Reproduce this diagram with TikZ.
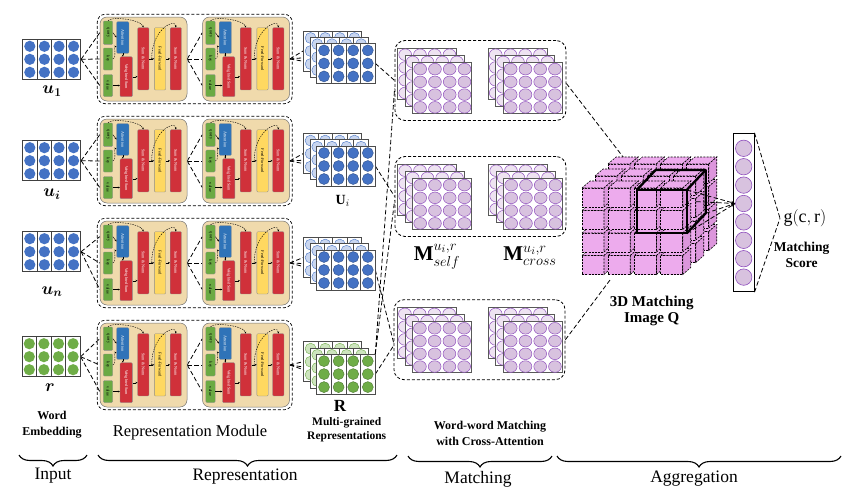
\documentclass[tikz,border=0pt]{standalone}
\usepackage{fontspec}
\setmainfont{Liberation Serif}
\usepackage{amsmath,bm}
\usetikzlibrary{decorations.pathreplacing,arrows.meta,calc,fit}
\definecolor{blueC}{HTML}{4472C4}
\definecolor{blueL}{HTML}{C9D6EF}
\definecolor{greenC}{HTML}{6FAD47}
\definecolor{greenL}{HTML}{CDE4BE}
\definecolor{purF}{HTML}{D8C2DF}
\definecolor{purL}{HTML}{EEE3F1}
\definecolor{purS}{HTML}{9050BE}
\definecolor{tanC}{HTML}{F0DAAC}
\definecolor{gboxC}{HTML}{6BAA43}
\definecolor{attnC}{HTML}{2F73B8}
\definecolor{redC}{HTML}{D0313A}
\definecolor{yelC}{HTML}{FFD860}
\definecolor{pinkC}{HTML}{EDABED}
\definecolor{pinkD}{HTML}{DC96DC}
\pgfdeclarelayer{bg}
\pgfsetlayers{bg,main}
\tikzset{
 blk/.style={inner sep=0pt, minimum width=58.4pt, minimum height=40pt},
 vcol/.style={draw=black!75, line width=1pt, fill=white, minimum width=14.6pt, minimum height=40pt, inner sep=0pt},
 tanbox/.style={fill=tanC, draw=black!55, line width=0.5pt, rounded corners=7pt, minimum width=87pt, minimum height=84pt, inner sep=0pt},
 mblk/.style={rotate=-90, draw=black!45, line width=0.3pt, inner sep=0pt, rounded corners=1pt, font=\fontsize{4.2}{5}\selectfont},
 ia/.style={-{Stealth[length=2pt,width=1.8pt]}, line width=0.4pt},
 ra/.style={-{Stealth[length=2pt,width=1.8pt]}, line width=0.4pt, dash pattern=on 1.5pt off 1pt},
 obox/.style={draw, dash pattern=on 3pt off 2pt, rounded corners=8pt, line width=0.7pt, inner sep=2.5pt},
 mbox/.style={draw, dash pattern=on 3pt off 2pt, rounded corners=10pt, line width=0.8pt, minimum width=171pt, minimum height=80pt, inner sep=0pt},
 conn/.style={dash pattern=on 4.5pt off 2.5pt, line width=0.8pt},
 cubeS/.style={draw=black, line width=0.6pt, dash pattern=on 2pt off 1.2pt},
 lab/.style={font=\fontsize{17.5}{20}\selectfont},
 blab/.style={font=\bfseries\fontsize{12}{16}\selectfont, align=center},
 brc/.style={decorate, decoration={brace, mirror, amplitude=11pt}, line width=1.1pt},
 vcirc/.style={circle, fill=purF, draw=purS, line width=0.6pt, minimum size=16.4pt, inner sep=0pt},
}
\newcommand\wvec[4]{%
 \node[blk] (#1) at ({#2+29.2},{#3+20}) {};
 \foreach \i in {0,...,3}{
  \node[vcol] (#1c\i) at ({#2+7.3+14.6*\i},{#3+20}) {};
  \foreach \j in {0,1,2} \fill[#4] ({#2+7.3+14.6*\i},{#3+7+13*\j}) circle (5.6);
 }}
\newcommand\slayer[5]{%
 \node[blk] (#1) at ({#2+29.2},{#3+20}) {};
 \foreach \i in {0,...,3}{
  \draw[draw=black!70,line width=0.8pt,fill=white] ({#2+14.6*\i},{#3}) rectangle ++(14.6,40);
  \foreach \j in {0,1,2} \filldraw[fill=#4,draw=#5,line width=0.4pt] ({#2+7.3+14.6*\i},{#3+7+13*\j}) circle (5.5);
 }}
\newcommand\rstack[5]{%
 \slayer{#1b}{#2}{#3}{#5}{#4}%
 \slayer{#1m}{#2+6.7}{#3+6.2}{#5}{#4}%
 \slayer{#1}{#2+13.4}{#3+12.4}{#4}{#4!70!black}}
\newcommand\mlayer[4]{%
 \node[draw=black!65,line width=0.9pt,fill=white,minimum width=59pt,minimum height=51pt,inner sep=0pt] (#1) at ({#2+29.5},{#3+25.5}) {};
 \foreach \i in {0,...,3}{\foreach \j in {0,...,3}{
  \filldraw[fill=#4,draw=purS,line width=0.5pt] ({#2+7.4+14.75*\i},{#3+6.4+12.75*\j}) ellipse (6.4 and 5.8);}}}
\newcommand\mstack[3]{%
 \mlayer{#1b}{#2}{#3}{purL}%
 \mlayer{#1m}{#2+7.5}{#3+7.2}{purL}%
 \mlayer{#1}{#2+15}{#3+14.4}{purF}}
\newcommand\rmod[3]{%
\begin{scope}[shift={(#2,#3)}]
\node[tanbox] (#1) at (43.5,42) {};
\node[mblk,fill=gboxC,minimum width=23.3pt,minimum height=9.4pt] (#1q) at (8,15.7) {query};
\node[mblk,fill=gboxC,minimum width=22pt,minimum height=9.4pt] (#1k) at (8,42) {key};
\node[mblk,fill=gboxC,minimum width=22pt,minimum height=9.4pt] (#1v) at (8,68.5) {value};
\node[mblk,fill=attnC,text=white,minimum width=31.6pt,minimum height=12.3pt] (#1a) at (22.8,20.5) {Attention};
\node[mblk,fill=redC,text=white,minimum width=40pt,minimum height=12.3pt] (#1w) at (26.2,59.7) {Weighted Sum};
\node[mblk,fill=redC,text=white,minimum width=62.3pt,minimum height=11.3pt] (#1s) at (43.3,41.8) {Sum \& Norm};
\node[mblk,fill=yelC,minimum width=62.3pt,minimum height=11.3pt] (#1f) at (60,41.8) {Feed-Forward};
\node[mblk,fill=redC,text=white,minimum width=62.3pt,minimum height=11.3pt] (#1n) at (75.8,41.8) {Sum \& Norm};
\draw[ia] (#1q.north) -- (#1a.south);
\draw[ra] (#1k.north) .. controls +(4,0) and +(-3,0) .. ($(#1a.south)+(0,9)$);
\draw[ia] (#1v.north) -- (#1v.north -| #1w.south);
\draw[ia] (#1a.east) -- (#1a.east |- #1w.west);
\draw[ia] (#1w.north) -- (#1w.north -| #1s.south);
\draw[ia] (#1s.north) -- (#1f.south);
\draw[ia] (#1f.north) -- (#1n.south);
\draw[ra] (#1q.west) .. controls +(2,-5) and +(-2,-8) .. (#1s.west);
\draw[ra] ($(#1s.north)!0.5!(#1f.south)$) .. controls +(0,-30) and +(0,-10) .. (#1n.west);
\end{scope}}
\begin{document}
\begin{tikzpicture}[x=1pt,y=-1pt]
\useasboundingbox (0,0) rectangle (856,493);
% ---------- input ----------
\wvec{u1}{22.5}{39.3}{blueC}
\wvec{ui}{22.5}{140.7}{blueC}
\wvec{un}{22.5}{231.7}{blueC}
\wvec{r}{22}{336.7}{greenC}
\node[font=\fontsize{17}{19}\selectfont] (lu1) at (52,91) {$\bm{u_1}$};
\node[font=\fontsize{17}{19}\selectfont] (lui) at (52,194) {$\bm{u_i}$};
\node[font=\fontsize{17}{19}\selectfont] (lun) at (52,291.7) {$\bm{u_n}$};
\node[font=\fontsize{17}{19}\selectfont] (lr) at (50,388) {$\bm{r}$};
% ---------- representation modules ----------
\rmod{ma1}{100}{17}  \rmod{mb1}{202.5}{17}
\rmod{ma2}{100}{119} \rmod{mb2}{202.5}{119}
\rmod{ma3}{100}{221} \rmod{mb3}{202.5}{221}
\rmod{ma4}{100}{323} \rmod{mb4}{202.5}{323}
\node[obox, fit=(ma1)(mb1)] (o1) {};
\node[obox, fit=(ma2)(mb2)] (o2) {};
\node[obox, fit=(ma3)(mb3)] (o3) {};
\node[obox, fit=(ma4)(mb4)] (o4) {};
% ---------- stacks ----------
\rstack{U1}{303.3}{31}{blueC}{blueL}
\rstack{Ui}{303.3}{133.6}{blueC}{blueL}
\rstack{Un}{303.3}{237.6}{blueC}{blueL}
\rstack{R}{303.3}{341.7}{greenC}{greenL}
\node[font=\fontsize{14}{16}\selectfont] (lUi) at (342.7,201) {$\mathbf{U}_i$};
\node[font=\fontsize{17}{19}\selectfont] (lR) at (340,406) {$\mathbf{R}$};
\node[font=\bfseries\fontsize{11.5}{14}\selectfont, align=center] (lmg) at (346.7,430) {Multi-grained\\Representations};
% ---------- matching ----------
\node[mbox] (MB1) at (480.5,80.5) {};
\node[mbox] (MB2) at (480.5,196.5) {};
\node[mbox] (MB3) at (479.5,339.7) {};
\mstack{S1}{397.8}{48.3} \mstack{C1}{488.3}{48.3}
\mstack{S2}{397.8}{164.3} \mstack{C2}{488.8}{164.3}
\mstack{S3}{397.5}{307.5} \mstack{C3}{488.3}{307.5}
\node[font=\fontsize{21}{23}\selectfont, anchor=base] (lMs) at (437,260) {$\mathbf{M}^{u_i,r}_{self}$};
\node[font=\fontsize{21}{23}\selectfont, anchor=base] (lMc) at (530,260) {$\mathbf{M}^{u_i,r}_{cross}$};
% ---------- 3D cube ----------
\foreach \k in {2,1,0}{
 \foreach \j in {3,2,1,0}{
  \foreach \i in {0,1,2,3}{
   \pgfmathsetmacro\X{582+26.25*\i+13*\k}
   \pgfmathsetmacro\Y{188+22.5*\j-12*\k}
   \filldraw[cubeS,fill=pinkC] (\X,\Y) rectangle ++(22,19);
   \filldraw[cubeS,fill=pinkC] (\X,\Y) -- ++(8,-7) -- ++(22,0) -- ++(-8,7) -- cycle;
   \filldraw[cubeS,fill=pinkD] (\X+22,\Y) -- ++(8,-7) -- ++(0,19) -- ++(-8,7) -- cycle;
 }}}
\coordinate (BFtl) at (636.7,190);
\coordinate (BFtr) at (686.7,190);
\coordinate (BFbr) at (686.7,233.3);
\coordinate (BBtl) at (655.7,170);
\coordinate (BBtr) at (705.7,170);
\coordinate (BBbr) at (705.7,213.3);
\draw[line width=2.3pt, line join=round] (BFtl) rectangle (BFbr);
\draw[line width=2.3pt, line join=round] (BFtl) -- (BBtl) -- (BBtr) -- (BBbr) -- (BFbr);
\draw[line width=2.3pt, line join=round] (BFtr) -- (BBtr);
\coordinate (Qt) at (627,162);
\coordinate (Qb) at (610,280);
\node[font=\bfseries\fontsize{15}{16}\selectfont, align=center] (lQ) at (651.7,311) {3D Matching\\Image Q};
% ---------- vector ----------
\node[draw, line width=0.9pt, fill=white, minimum width=20.7pt, minimum height=158.4pt, inner sep=0pt] (V) at (743.7,212.5) {};
\foreach \m in {1,...,8}{
 \node[vcirc] (V\m) at (743.7,{148.3+18.4*(\m-1)}) {};
}
\node[font=\fontsize{18}{20}\selectfont, anchor=west] (g) at (780,218.3) {$\mathrm{g(c,r)}$};
\node[font=\bfseries\fontsize{13.5}{16.6}\selectfont, align=center] (lms) at (801.7,255) {Matching\\Score};
% ---------- bottom labels ----------
\node[blab] (lwe) at (52,424.7) {Word\\Embedding};
\node[font=\fontsize{16.5}{18}\selectfont] (lrm) at (190,432.7) {Representation Module};
\node[blab] (lww) at (490,433) {Word-word Matching\\with Cross-Attention};
\coordinate (b1a) at (19,455);  \coordinate (b1b) at (87,455);
\coordinate (b2a) at (98,455);  \coordinate (b2b) at (397,455);
\coordinate (b3a) at (408,456); \coordinate (b3b) at (552,456);
\coordinate (b4a) at (557,456); \coordinate (b4b) at (841,456);
\draw[brc] (b1a) -- (b1b);
\draw[brc] (b2a) -- (b2b);
\draw[brc] (b3a) -- (b3b);
\draw[brc] (b4a) -- (b4b);
\node[lab] (lin) at (53,476) {Input};
\node[lab] (lrep) at (245,477) {Representation};
\node[lab] (lmat) at (478,479) {Matching};
\node[lab] (lagg) at (694,479) {Aggregation};
% ---------- connectors ----------
\begin{pgfonlayer}{bg}
\foreach \s/\n in {u1/1,ui/2,un/3,r/4}{
 \foreach \p in {q,k,v}{
  \draw[conn] (\s.east) -- (ma\n.west |- ma\n\p);
  \draw[conn] (ma\n.east) -- (mb\n.west |- mb\n\p);
 }}
\foreach \n/\t in {1/U1,2/Ui,3/Un,4/R}{
 \draw[conn] (mb\n.east) -- (\t b.west);
 \draw[conn] (mb\n.east) -- (\t m.west);
 \draw[conn] (mb\n.east) -- (\t.west);
}
\draw[conn] (U1.east) -- (MB1.west);
\draw[conn] (Ui.east) -- (MB2.west);
\draw[conn] (Un.east) -- ($(MB3.west)+(0,3)$);
\draw[conn] (R.east) -- ($(MB3.west)+(0,6)$);
\draw[conn] (R.north east) -- ($(MB1.west)+(0,8)$);
\draw[conn] (R.north east) -- ($(MB2.west)+(0,4)$);
\draw[conn] ($(MB1.east)+(0,3)$) -- (Qt);
\draw[conn] (MB3.east) -- (Qb);
\end{pgfonlayer}
\foreach \c in {BFtr,BBbr,BFbr}{
 \draw[conn, -{Stealth[length=4pt,width=3pt]}] (\c) -- (V4.west);
}
\draw[conn, -{Stealth[length=4pt,width=3pt]}] ($(BFtr)!0.5!(BBbr)$) -- (V4.west);
\draw[conn] (V.north east) -- (g.west);
\draw[conn] (V.south east) -- (g.west);
\end{tikzpicture}
\end{document}
